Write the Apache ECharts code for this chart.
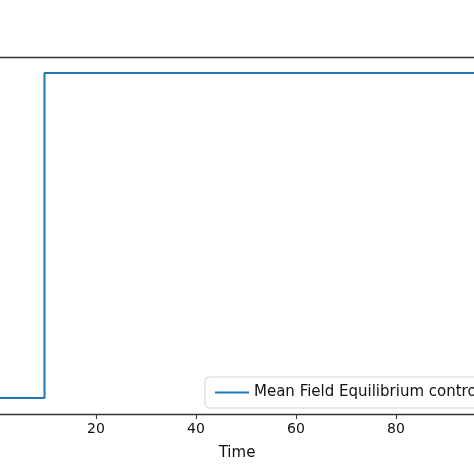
<!DOCTYPE html>
<html>
<head>
<meta charset="utf-8">
<script src="https://cdn.jsdelivr.net/npm/echarts@6/dist/echarts.min.js"></script>
<style>html,body{margin:0;padding:0;background:#fff}#c{width:474px;height:474px}</style>
</head>
<body>
<div id="c"></div>
<script>
// step series
var times = [0, 9.7, 100];
var values = [0, 1, 1];
var xTicks = [20, 40, 60, 80];

var chart = echarts.init(document.getElementById('c'));
var option = {
  animation: false,
  grid: { left: 0, right: 0, top: 57, bottom: 60 },
  legend: {
    left: 205, top: 377,
    data: ['Mean Field Equilibrium control'],
    itemWidth: 34, itemHeight: 2, itemGap: 8,
    icon: 'rect',
    padding: [8, 10, 8, 10],
    borderColor: '#d5d5d5', borderWidth: 1, borderRadius: 4,
    backgroundColor: 'rgba(255,255,255,0.8)',
    textStyle: { fontFamily: 'DejaVu Sans', fontSize: 15, color: '#111' }
  },
  xAxis: [{
    type: 'value', min: 0.8, max: 95.6,
    name: 'Time', nameLocation: 'middle', nameGap: 32,
    nameTextStyle: { fontFamily: 'DejaVu Sans', fontSize: 15, color: '#111' },
    axisLine: { onZero: false, lineStyle: { color: '#333', width: 1.3 } },
    axisTick: { show: true, length: 5, customValues: xTicks, lineStyle: { color: '#333' } },
    axisLabel: { fontFamily: 'DejaVu Sans', fontSize: 14, color: '#111', margin: 8, customValues: xTicks },
    splitLine: { show: false }
  }, {
    type: 'value', min: 0.8, max: 95.6, position: 'top',
    axisLine: { onZero: false, lineStyle: { color: '#333', width: 1.3 } },
    axisTick: { show: false }, axisLabel: { show: false }, splitLine: { show: false }
  }],
  yAxis: { type: 'value', min: -0.049, max: 1.049, show: false },
  series: [{
    name: 'Mean Field Equilibrium control',
    type: 'line', step: 'end', showSymbol: false,
    lineStyle: { color: '#1f77b4', width: 2 },
    itemStyle: { color: '#1f77b4' },
    data: times.map(function (t, i) { return [t, values[i]]; })
  }]
};
chart.setOption(option);
</script>
</body>
</html>
